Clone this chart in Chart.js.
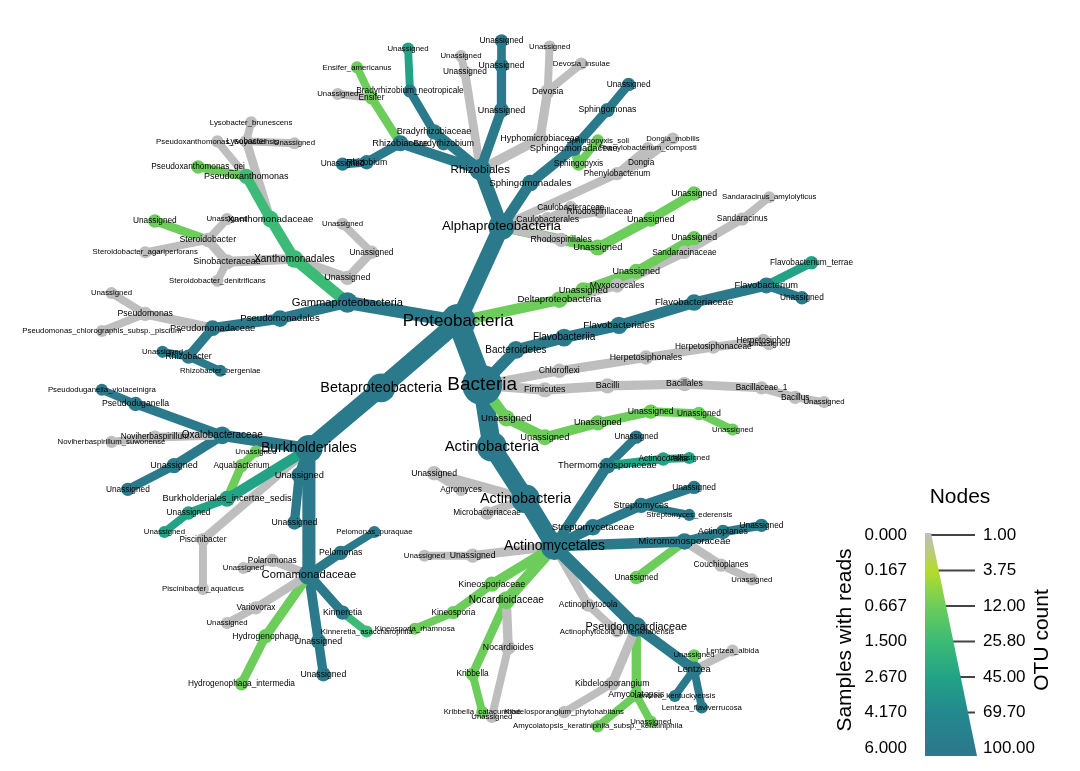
<!DOCTYPE html>
<html><head><meta charset="utf-8">
<script src="https://cdn.jsdelivr.net/npm/chart.js@4"></script>
<style>html,body{margin:0;padding:0;background:#fff}#w{width:1080px;height:771px}</style>
</head><body><div id="w"><canvas id="c"></canvas></div>
<script>
// rows: [id, label, x, y, parentId, samplesWithReads, otuCount]
const coreNodes = [
 ["B","Bacteria",480,385,null,6,100],
 ["P","Proteobacteria",455,318,"B",6,70],
 ["A","Alphaproteobacteria",500,218,"P",6,30],
 ["G","Gammaproteobacteria",340,298,"P",6,14],
 ["BE","Betaproteobacteria",375,388,"P",6,40],
 ["D","Deltaproteobacteria",560,295,"P",0.667,6],
 ["BD","Bacteroidetes",515,348,"B",6,8],
 ["CH","Chloroflexi",560,370,"B",0,3],
 ["FI","Firmicutes",545,390,"B",0,4],
 ["UG1","Unassigned",505,420,"B",0.667,6],
 ["AC","Actinobacteria",490,450,"B",6,45],
 ["AC2","Actinobacteria",525,505,"AC",6,40],
 ["AM","Actinomycetales",555,555,"AC2",6,35]
];
const alphaNodes = [
 ["RZ","Rhizobiales",478,158,"A",6,16],
 ["RZA","Rhizobiaceae",395,130,"RZ",6,5],
 ["RB","Rhizobium",360,150,"RZA",6,3],
 ["RBU","Unassigned",335,152,"RB",6,2],
 ["EN","Ensifer",365,82,"RZA",0.667,2],
 ["ENA","Ensifer_americanus",350,50,"EN",0.667,1],
 ["ENU","Unassigned",330,78,"EN",0,1],
 ["BRA","Bradyrhizobiaceae",430,118,"RZ",6,4],
 ["BR","Bradyrhizobium",440,130,"BRA",6,3],
 ["BRN","Bradyrhizobium_neotropicale",405,75,"BRA",6,2],
 ["BRU","Unassigned",403,30,"BRN",2.67,1],
 ["RU1","Unassigned",500,95,"RZ",6,4],
 ["RU2","Unassigned",500,48,"RU1",6,3],
 ["RU3","Unassigned",500,22,"RU2",6,2],
 ["HY","Hyphomicrobiaceae",540,125,"RZ",0,4],
 ["DV","Devosia",548,75,"HY",0,3],
 ["DVI","Devosia_insulae",583,46,"DV",0,1],
 ["DVU","Unassigned",550,28,"DV",0,1],
 ["GU1","Unassigned",462,55,"RZ",0,2],
 ["GU2","Unassigned",458,38,"GU1",0,1],
 ["SPL","Sphingomonadales",530,172,"A",6,6],
 ["SPA","Sphingomonadaceae",575,135,"SPL",6,5],
 ["SP","Sphingomonas",610,95,"SPA",6,3],
 ["SPU","Unassigned",632,68,"SP",6,2],
 ["SX","Sphingopyxis",580,152,"SPA",0.667,2],
 ["SXS","Sphingopyxis_soli",600,127,"SX",0.667,1],
 ["PH","Phenylobacterium",620,162,"A",0,2],
 ["PHC","Phenylobacterium_composti",652,135,"PH",0,1],
 ["DO","Dongia",645,150,"PH",0,2],
 ["DOM","Dongia_mobilis",678,125,"DO",0,1],
 ["CA","Caulobacterales",548,210,"A",0,3],
 ["CAA","Caulobacteraceae",572,198,"CA",0,2],
 ["RHA","Rhodospirillaceae",602,202,"A",0,2],
 ["RH","Rhodospirillales",562,232,"A",0,3],
 ["AU1","Unassigned",600,240,"A",0.667,5],
 ["AU2","Unassigned",655,210,"AU1",0.667,4],
 ["AU3","Unassigned",700,183,"AU2",0.667,3]
];
const deltaNodes = [
 ["DU1","Unassigned",585,285,"D",0.667,5],
 ["DU2","Unassigned",640,265,"DU1",0.667,4],
 ["DU3","Unassigned",700,230,"DU2",0.667,3],
 ["MY","Myxococcales",620,280,"D",0,3],
 ["SA","Sandaracinaceae",690,245,"MY",0,2],
 ["SAN","Sandaracinus",750,210,"SA",0,2],
 ["SANA","Sandaracinus_amylolyticus",778,187,"SAN",0,1]
];
const gammaNodes = [
 ["XL","Xanthomonadales",285,252,"G",1.5,8],
 ["XA","Xanthomonadaceae",260,210,"XL",1.5,6],
 ["PX","Pseudoxanthomonas",235,165,"XA",1.5,4],
 ["PXG","Pseudoxanthomonas_gei",185,155,"PX",0.667,2],
 ["PXW","Pseudoxanthomonas_wuyuanensis",205,128,"PX",0,1],
 ["LY","Lysobacter",235,128,"XA",0,2],
 ["LYB","Lysobacter_brunescens",240,108,"LY",0,1],
 ["LYU","Unassigned",285,130,"LY",0,1],
 ["SI","Sinobacteraceae",215,255,"XL",0,4],
 ["ST","Steroidobacter",195,232,"SI",0,3],
 ["STA","Steroidobacter_agariperforans",130,245,"ST",0,1],
 ["STU","Unassigned",140,212,"ST",0.667,2],
 ["STU2","Unassigned",215,210,"ST",0,1],
 ["STD","Steroidobacter_denitrificans",205,275,"SI",0,1],
 ["XU1","Unassigned",340,272,"XL",0,3],
 ["XU2","Unassigned",365,245,"XU1",0,2],
 ["XU3","Unassigned",335,215,"XU2",0,1],
 ["PML","Pseudomonadales",270,315,"G",6,6],
 ["PMA","Pseudomonadaceae",200,325,"PML",6,5],
 ["PM","Pseudomonas",130,310,"PMA",0,3],
 ["PMU","Unassigned",95,288,"PM",0,1],
 ["PMC","Pseudomonas_chlorographis_subsp._piscium",85,328,"PM",0,1],
 ["RBT","Rhizobacter",175,355,"PMA",6,3],
 ["RBTU","Unassigned",148,350,"RBT",6,1],
 ["RBTB","Rhizobacter_bergeniae",208,370,"RBT",6,1]
];
const betaNodes = [
 ["BU","Burkholderiales",300,452,"BE",6,35],
 ["OX","Oxalobacteraceae",210,438,"BU",6,8],
 ["PD","Pseudoduganella",120,405,"OX",6,3],
 ["PDV","Pseudoduganella_violaceinigra",85,390,"PD",6,1],
 ["NV","Noviherbaspirillum",140,440,"OX",0,2],
 ["NVS","Noviherbaspirillum_suwonense",95,445,"NV",0,1],
 ["OXU1","Unassigned",160,470,"OX",6,4],
 ["OXU2","Unassigned",112,495,"OXU1",6,2],
 ["BIS","Burkholderiales_incertae_sedis",215,505,"BU",2.67,5],
 ["AQ","Aquabacterium",230,470,"BIS",0.667,2],
 ["AQU","Unassigned",245,455,"AQ",0.667,1],
 ["BISU","Unassigned",175,520,"BIS",2.67,2],
 ["BISU2","Unassigned",150,540,"BISU",2.67,1],
 ["BUU1","Unassigned",290,480,"BU",6,5],
 ["BUU2","Unassigned",285,530,"BUU1",6,3],
 ["CO","Comamonadaceae",300,585,"BU",6,14],
 ["PL","Pelomonas",333,562,"CO",6,3],
 ["PLP","Pelomonas_puraquae",368,540,"PL",6,1],
 ["PO","Polaromonas",262,570,"CO",0,2],
 ["POU","Unassigned",232,578,"PO",0,1],
 ["VA","Variovorax",245,620,"CO",0,2],
 ["VAU","Unassigned",215,636,"VA",0,1],
 ["HG","Hydrogenophaga",255,650,"CO",0.667,3],
 ["HGI","Hydrogenophaga_intermedia",230,700,"HG",0.667,2],
 ["KN","Kinneretia",335,625,"CO",6,3],
 ["KNA","Kinneretia_asaccharophila",360,645,"KN",1.5,1],
 ["COU1","Unassigned",310,655,"CO",6,4],
 ["COU2","Unassigned",315,690,"COU1",6,3],
 ["PI","Piscinibacter",190,548,"BU",0,2],
 ["PIA","Piscinibacter_aquaticus",190,600,"PI",0,1]
];
const otherNodes = [
 ["FL","Flavobacteriia",565,335,"BD",6,8],
 ["FLL","Flavobacteriales",622,322,"FL",6,7],
 ["FLA","Flavobacteriaceae",700,298,"FLL",6,6],
 ["FLB","Flavobacterium",775,280,"FLA",6,5],
 ["FLT","Flavobacterium_terrae",822,256,"FLB",2.67,2],
 ["FLU","Unassigned",812,293,"FLB",6,2],
 ["HPL","Herpetosiphonales",650,356,"CH",0,3],
 ["HPA","Herpetosiphonaceae",720,345,"HPL",0,2],
 ["HP","Herpetosiphon",772,338,"HPA",0,2],
 ["HPU","Unassigned",778,342,"HP",0,1],
 ["BC","Bacilli",610,386,"FI",0,4],
 ["BCL","Bacillales",690,384,"BC",0,3],
 ["BCA","Bacillaceae_1",770,388,"BCL",0,2],
 ["BCS","Bacillus",805,398,"BCA",0,2],
 ["BCU","Unassigned",835,403,"BCS",0,1],
 ["UG2","Unassigned",545,440,"UG1",0.667,5],
 ["UG3","Unassigned",600,425,"UG2",0.667,4],
 ["UG4","Unassigned",655,413,"UG3",0.667,3],
 ["UG5","Unassigned",705,415,"UG4",0.667,2],
 ["UG6","Unassigned",740,432,"UG5",0.667,1]
];
const actinoNodes = [
 ["AGU","Unassigned",430,478,"AC2",0,3],
 ["AG","Agromyces",458,495,"AGU",0,2],
 ["MB","Microbacteriaceae",485,520,"AC2",0,2],
 ["STM","Streptomycetaceae",595,535,"AM",6,6],
 ["STS","Streptomyces",645,512,"STM",6,4],
 ["STE","Streptomyces_ederensis",695,522,"STS",6,1],
 ["STU3","Unassigned",700,493,"STS",6,2],
 ["TH","Thermomonosporaceae",610,470,"AM",6,5],
 ["THA","Actinocorallia",668,463,"TH",2.67,2],
 ["THU","Unassigned",695,462,"THA",2.67,1],
 ["THU2","Unassigned",640,440,"TH",6,2],
 ["MM","Micromonosporaceae",690,550,"AM",6,6],
 ["AP","Actinoplanes",730,540,"MM",6,3],
 ["APU","Unassigned",770,533,"AP",6,2],
 ["CP","Couchioplanes",728,575,"MM",0,2],
 ["CPU","Unassigned",760,590,"CP",0,1],
 ["MMU","Unassigned",640,588,"MM",0.667,2],
 ["PS","Pseudonocardiaceae",640,640,"AM",6,12],
 ["LZ","Lentzea",700,685,"PS",6,5],
 ["LZA","Lentzea_albida",740,665,"LZ",0,1],
 ["LZK","Lentzea_kentuckyensis",680,713,"LZ",6,1],
 ["LZF","Lentzea_flaviverrucosa",708,725,"LZ",6,1],
 ["LZU","Unassigned",700,670,"LZ",0.667,1],
 ["KB","Kibdelosporangium",615,700,"PS",0,3],
 ["KBP","Kibdelosporangium_phytohabitans",565,730,"KB",0,1],
 ["AY","Amycolatopsis",640,712,"PS",0.667,3],
 ["AYK","Amycolatopsis_keratiniphila_subsp._keratiniphila",600,745,"AY",0.667,1],
 ["AYU","Unassigned",655,740,"AY",0.667,1],
 ["APH","Actinophytocola",590,617,"AM",0,2],
 ["APHB","Actinophytocola_burenkhanensis",620,645,"APH",0,1],
 ["NO","Nocardioidaceae",505,612,"AM",0.667,8],
 ["NOD","Nocardioides",507,662,"NO",0,3],
 ["NODU","Unassigned",490,735,"NOD",0,1],
 ["KR","Kribbella",470,690,"NO",0.667,2],
 ["KRC","Kribbella_catacumbae",480,730,"KR",0.667,1],
 ["KO","Kineosporiaceae",490,595,"AM",0.667,4],
 ["KOS","Kineosporia",450,625,"KO",0.667,2],
 ["KOR","Kineosporia_rhamnosa",410,642,"KOS",0.667,1],
 ["AMU1","Unassigned",470,565,"AM",0,3],
 ["AMU2","Unassigned",420,565,"AMU1",0,1]
];
const readTicks = ["0.000","0.167","0.667","1.500","2.670","4.170","6.000"];
const countTicks = ["1.00","3.75","12.00","25.80","45.00","69.70","100.00"];
const colorStops = ["#BEBEBE","#B5DC2D","#6CCD5A","#3BBB75","#22A385","#23898E","#2B7A8C"];

const allNodes = [].concat(coreNodes,alphaNodes,deltaNodes,gammaNodes,betaNodes,otherNodes,actinoNodes);
const byId = {}; allNodes.forEach(n=>byId[n[0]]=n);
const readVals = readTicks.map(Number);
function hex(h){return [1,3,5].map(i=>parseInt(h.substr(i,2),16));}
function colorFor(r){
  for(let i=0;i<readVals.length-1;i++){
    if(r<=readVals[i+1]){const t=(r-readVals[i])/(readVals[i+1]-readVals[i]);
      const a=hex(colorStops[i]),b=hex(colorStops[i+1]);
      return 'rgb('+a.map((v,k)=>Math.round(v+(b[k]-v)*t)).join(',')+')';}
  }
  return colorStops[colorStops.length-1];
}
const rad = c => 4.5 + Math.sqrt(c)*1.55;
const ew = c => 6 + Math.sqrt(c)*1.9;
const fs = c => 6.5 + Math.sqrt(c)*1.25;

const datasets = [];
allNodes.forEach(n=>{
  if(!n[4]) return; const p=byId[n[4]];
  datasets.push({type:'line',data:[{x:p[2],y:p[3]},{x:n[2],y:n[3]}],borderColor:colorFor(n[5]),
    borderWidth:ew(n[6]),borderCapStyle:'round',pointRadius:0,order:2,clip:false});
});
datasets.push({type:'scatter',data:allNodes.map(n=>({x:n[2],y:n[3]})),order:1,clip:false,
  pointRadius:allNodes.map(n=>rad(n[6])),pointBackgroundColor:allNodes.map(n=>colorFor(n[5])),pointBorderWidth:0});

const labelPlugin={id:'lbl',afterDatasetsDraw(ch){
  const c=ch.ctx,xs=ch.scales.x,ys=ch.scales.y;
  c.save();c.fillStyle='#000';c.textAlign='center';c.textBaseline='middle';
  allNodes.forEach(n=>{c.font=fs(n[6]).toFixed(1)+'px "Liberation Sans", Arial';
    c.fillText(n[1],xs.getPixelForValue(n[2]),ys.getPixelForValue(n[3]));});
  // legend
  const top=535,bot=748,xl=925;
  c.strokeStyle='#444';c.lineWidth=2;
  readTicks.forEach((t,i)=>{const y=top+(bot-top)*i/6;
    c.beginPath();c.moveTo(xl+5,y);c.lineTo(975,y);c.stroke();});
  const g=c.createLinearGradient(0,top,0,bot);
  colorStops.forEach((s,i)=>g.addColorStop(i/(colorStops.length-1),s));
  c.fillStyle=g;c.beginPath();c.moveTo(xl,top-2);c.lineTo(xl+6,top-2);c.lineTo(xl+52,bot+8);c.lineTo(xl,bot+8);c.closePath();c.fill();
  c.fillStyle='#000';c.font='17px "Liberation Sans", Arial';
  readTicks.forEach((t,i)=>{const y=top+(bot-top)*i/6;c.textAlign='right';c.fillText(t,907,y);
    c.textAlign='left';c.fillText(countTicks[i],983,y);});
  c.font='21px "Liberation Sans", Arial';c.textAlign='center';c.fillText('Nodes',960,497);
  c.translate(845,640);c.rotate(-Math.PI/2);c.fillText('Samples with reads',0,0);c.rotate(Math.PI/2);c.translate(-845,-640);
  c.translate(1042,640);c.rotate(-Math.PI/2);c.fillText('OTU count',0,0);
  c.restore();
}};

new Chart(document.getElementById('c'),{
  data:{datasets},
  options:{responsive:true,maintainAspectRatio:false,animation:false,layout:{padding:0},
    plugins:{legend:{display:false},tooltip:{enabled:false}},
    scales:{x:{type:'linear',min:0,max:1080,display:false},y:{type:'linear',min:0,max:771,reverse:true,display:false}}},
  plugins:[labelPlugin]
});
</script></body></html>
